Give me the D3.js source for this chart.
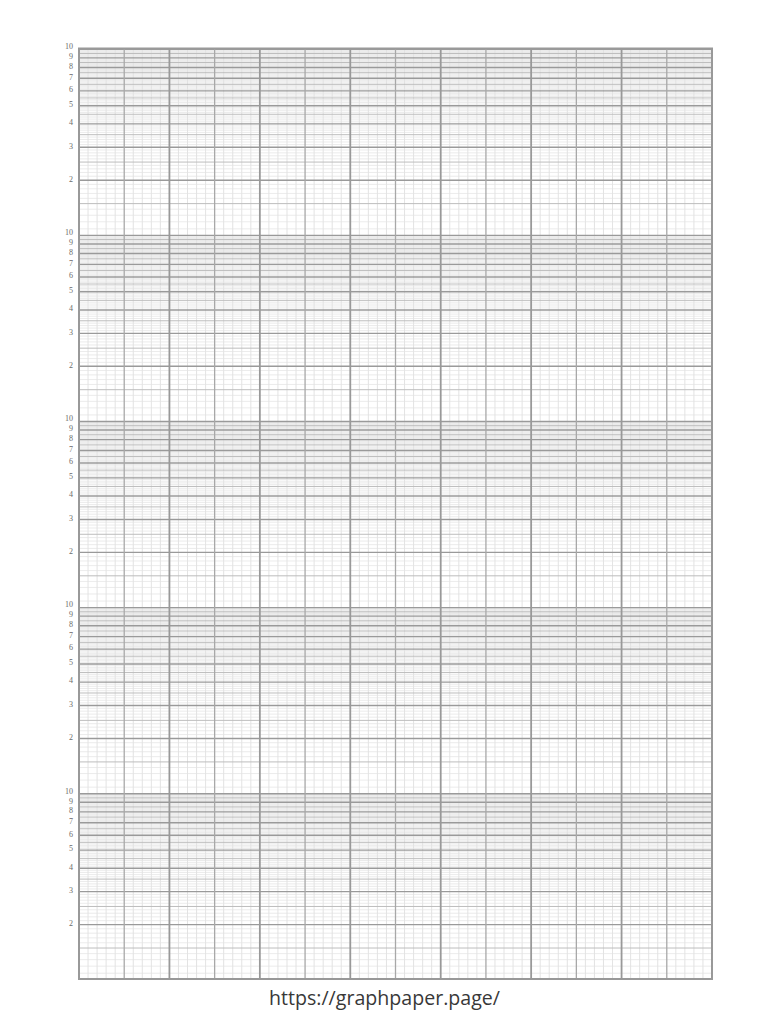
<!DOCTYPE html>
<html>
<head>
<meta charset="utf-8">
<script src="https://cdn.jsdelivr.net/npm/d3@7"></script>
<style>
  html, body { margin: 0; padding: 0; background: #fff; }
  svg { display: block; }
</style>
</head>
<body>
<div id="chart"></div>
<script>
// semi-log paper: 5 log cycles up the page, 14 linear columns across
const decades = [0, 1, 2, 3, 4]
const cycleLabels = [2, 3, 4, 5, 6, 7, 8, 9, 10]
const majorValues = [2, 3, 4, 5, 6, 7, 8, 9, 10]
const mediumValues = [1.5, 2.5, 3.5, 4.5, 5.5, 6.5, 7.5, 8.5, 9.5]
const minorValues = d3.range(11, 100).map(v => v / 10)
const columns = 14
const subPerColumn = 5
const footerText = 'https://graphpaper.page/'

const W = 768, H = 1024
const margin = { left: 79, right: 56, top: 48.5, bottom: 45 }
const innerW = W - margin.left - margin.right
const innerH = H - margin.top - margin.bottom

const svg = d3.select('#chart').append('svg')
  .attr('width', W)
  .attr('height', H)

const g = svg.append('g')
  .attr('transform', `translate(${margin.left},${margin.top})`)

const x = d3.scaleLinear()
  .domain([0, columns])
  .range([0, innerW])

// one band per cycle, top cycle first
const band = d3.scaleBand()
  .domain(decades)
  .range([0, innerH])

// the printed cycles run a touch longer than their band (1 sits under the next 10)
const cycleY = d => d3.scaleLog()
  .domain([1, 10])
  .range([band(d) + band.bandwidth() + 2, band(d) + 0.8])

// fine vertical lines
const subTicks = d3.range(0, columns * subPerColumn + 1).map(i => i / subPerColumn)
  .filter(v => v % 1 !== 0)

g.append('g').selectAll('line')
  .data(subTicks)
  .join('line')
    .attr('x1', d => x(d)).attr('x2', d => x(d))
    .attr('y1', 0).attr('y2', innerH)
    .attr('stroke', '#dcdcdc')
    .attr('stroke-width', 0.8)

// horizontal lines per cycle
const cycles = g.append('g').selectAll('g')
  .data(decades)
  .join('g')

cycles.each(function(d) {
  const y = cycleY(d)
  const sel = d3.select(this)

  sel.selectAll('line.minor')
    .data(minorValues.filter(v => !mediumValues.includes(v) && v % 1 !== 0))
    .join('line')
      .attr('class', 'minor')
      .attr('x1', 0).attr('x2', innerW)
      .attr('y1', v => y(v)).attr('y2', v => y(v))
      .attr('stroke', '#e2e2e2')
      .attr('stroke-width', 0.7)

  sel.selectAll('line.medium')
    .data(mediumValues)
    .join('line')
      .attr('class', 'medium')
      .attr('x1', 0).attr('x2', innerW)
      .attr('y1', v => y(v)).attr('y2', v => y(v))
      .attr('stroke', '#bdbdbd')
      .attr('stroke-width', 1)
})

// major vertical column lines, every second one heavier
g.append('g').selectAll('line')
  .data(d3.range(1, columns))
  .join('line')
    .attr('x1', d => x(d)).attr('x2', d => x(d))
    .attr('y1', 0).attr('y2', innerH)
    .attr('stroke', d => d % 2 === 0 ? '#999' : '#a8a8a8')
    .attr('stroke-width', d => d % 2 === 0 ? 1.8 : 1.3)

cycles.each(function(d) {
  const y = cycleY(d)
  const sel = d3.select(this)

  sel.selectAll('line.major')
    .data(majorValues)
    .join('line')
      .attr('class', 'major')
      .attr('x1', 0).attr('x2', innerW)
      .attr('y1', v => y(v)).attr('y2', v => y(v))
      .attr('stroke', '#9a9a9a')
      .attr('stroke-width', 1.4)

  sel.selectAll('text')
    .data(cycleLabels)
    .join('text')
      .attr('x', -6)
      .attr('y', v => y(v) - (v === 10 ? 2 : 0.5))
      .attr('text-anchor', 'end')
      .attr('dominant-baseline', 'middle')
      .attr('font-family', '"Liberation Serif", "DejaVu Serif", serif')
      .attr('font-size', 8)
      .attr('fill', '#6a6a6a')
      .text(v => v)
})

// outer frame
g.append('rect')
  .attr('x', 0).attr('y', 0)
  .attr('width', innerW).attr('height', innerH)
  .attr('fill', 'none')
  .attr('stroke', '#999')
  .attr('stroke-width', 2)

svg.append('text')
  .attr('x', W / 2 + 0.5)
  .attr('y', 1005)
  .attr('text-anchor', 'middle')
  .attr('font-family', '"Open Sans", "Noto Sans", sans-serif')
  .attr('font-size', 19.6)
  .attr('fill', '#383838')
  .text(footerText)
</script>
</body>
</html>
